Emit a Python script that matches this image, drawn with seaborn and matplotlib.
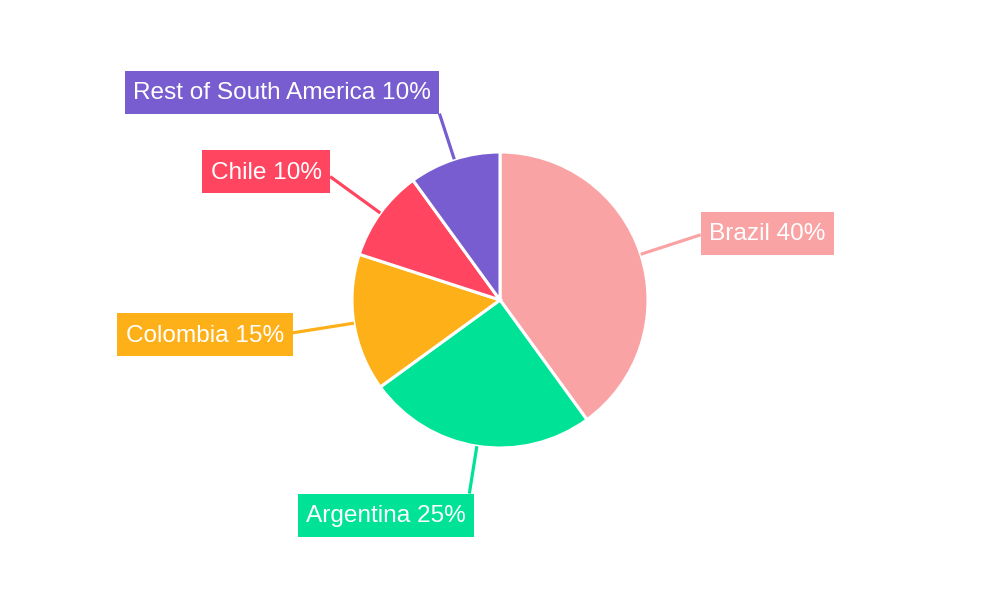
import numpy as np
import matplotlib
matplotlib.use('Agg')
import matplotlib.pyplot as plt
from matplotlib.patches import Rectangle
import seaborn as sns

sns.set_theme(style='white')
plt.rcParams['font.family'] = ['Liberation Sans', 'DejaVu Sans']

countries = ['Brazil', 'Argentina', 'Colombia', 'Chile', 'Rest of South America']
shares = [40, 25, 15, 10, 10]
colors = ['#F9A3A4', '#00E396', '#FEB019', '#FF4560', '#775DD0']

# leader length (px) and where the label box sits on the leader end (y down)
leader_len = [63, 48, 62, 62, 48]
anchors = [('left', 'center', 0, -1.5),
           ('right', 'top', 5, 0),
           ('right', 'center', 0, 2),
           ('right', 'center', 0, -5),
           ('right', 'bottom', 0, 0)]
pad_x, box_h = 8.5, 43

fig = plt.figure(figsize=(10, 6), dpi=100)
ax = fig.add_axes([0, 0, 1, 1])

cx, cy, r = 500, 300, 148
# y axis gets inverted below, so counterclock in data = clockwise on screen
wedges, _ = ax.pie(shares, colors=colors, startangle=-90, counterclock=True,
                   center=(cx, cy), radius=r,
                   wedgeprops=dict(edgecolor='white', linewidth=2.2))
ax.set_xlim(0, 1000)
ax.set_ylim(600, 0)
ax.set_aspect('equal')
ax.axis('off')

renderer = fig.canvas.get_renderer()

for w, name, pct, col, L, (ha, va, dx, dy) in zip(wedges, countries, shares, colors, leader_len, anchors):
    mid = np.deg2rad((w.theta1 + w.theta2) / 2)
    x0, y0 = cx + r * np.cos(mid), cy + r * np.sin(mid)
    x1, y1 = cx + (r + L) * np.cos(mid), cy + (r + L) * np.sin(mid)
    ax.plot([x0, x1], [y0, y1], color=col, lw=2.3, solid_capstyle='butt', zorder=1)

    t = ax.text(0, 0, f'{name} {pct}%', ha='center', va='center', fontsize=17.6,
                color='white', zorder=3)
    tw = t.get_window_extent(renderer).width
    bw = tw + 2 * pad_x
    left = x1 + dx if ha == 'left' else x1 + dx - bw
    if va == 'center':
        top = y1 + dy - box_h / 2
    elif va == 'top':
        top = y1 + dy
    else:
        top = y1 + dy - box_h
    ax.add_patch(Rectangle((left, top), bw, box_h, fc=col, ec='none', zorder=2))
    t.set_position((left + bw / 2, top + box_h / 2 + 1))

fig.savefig('out.png', dpi=100, facecolor='white')
